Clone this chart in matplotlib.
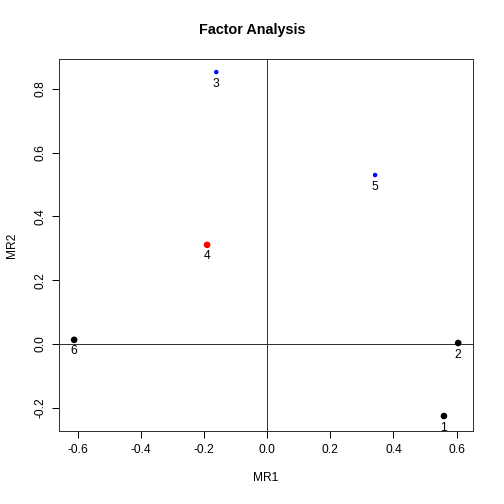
import matplotlib
matplotlib.use("Agg")
import matplotlib.pyplot as plt

plt.rcParams['font.family'] = ['Liberation Sans', 'DejaVu Sans']

# factor loadings
labels = ['1', '2', '3', '4', '5', '6']
mr1 = [0.560, 0.605, -0.161, -0.190, 0.342, -0.611]
mr2 = [-0.226, 0.003, 0.853, 0.311, 0.530, 0.013]
colors = ['black', 'black', 'blue', 'red', 'blue', 'black']
sizes = [44, 44, 20, 44, 20, 44]

fig = plt.figure(figsize=(7, 7), dpi=72)
ax = fig.add_axes([59 / 504, 1 - 431 / 504, 414 / 504, 372 / 504])

ax.axhline(0, color='#333333', lw=1, zorder=1)
ax.axvline(0, color='#333333', lw=1, zorder=1)
ax.scatter(mr1, mr2, c=colors, s=sizes, linewidths=0, zorder=3)
for x, y, t in zip(mr1, mr2, labels):
    ax.annotate(t, (x, y), xytext=(0, -5.5), textcoords='offset points',
                ha='center', va='top', fontsize=12, clip_on=True)

ax.set_xlim(-0.659, 0.652)
ax.set_ylim(-0.273, 0.894)
ax.set_xticks([-0.6, -0.4, -0.2, 0.0, 0.2, 0.4, 0.6])
ax.set_yticks([-0.2, 0.0, 0.2, 0.4, 0.6, 0.8])
ax.set_xticklabels(['-0.6', '-0.4', '-0.2', '0.0', '0.2', '0.4', '0.6'])
ax.set_yticklabels(['-0.2', '0.0', '0.2', '0.4', '0.6', '0.8'], rotation=90, va='center')
ax.tick_params(direction='out', length=7, width=1, labelsize=12, pad=6)
for s in ax.spines.values():
    s.set_linewidth(1)
    s.set_color('#333333')

ax.set_xlabel('MR1', fontsize=12, labelpad=16)
ax.set_ylabel('MR2', fontsize=12, labelpad=16)
fig.text(0.5, 1 - 30 / 504, 'Factor Analysis', ha='center', va='center',
         fontsize=14.4, fontweight='bold')

fig.savefig('out.png', dpi=72)
